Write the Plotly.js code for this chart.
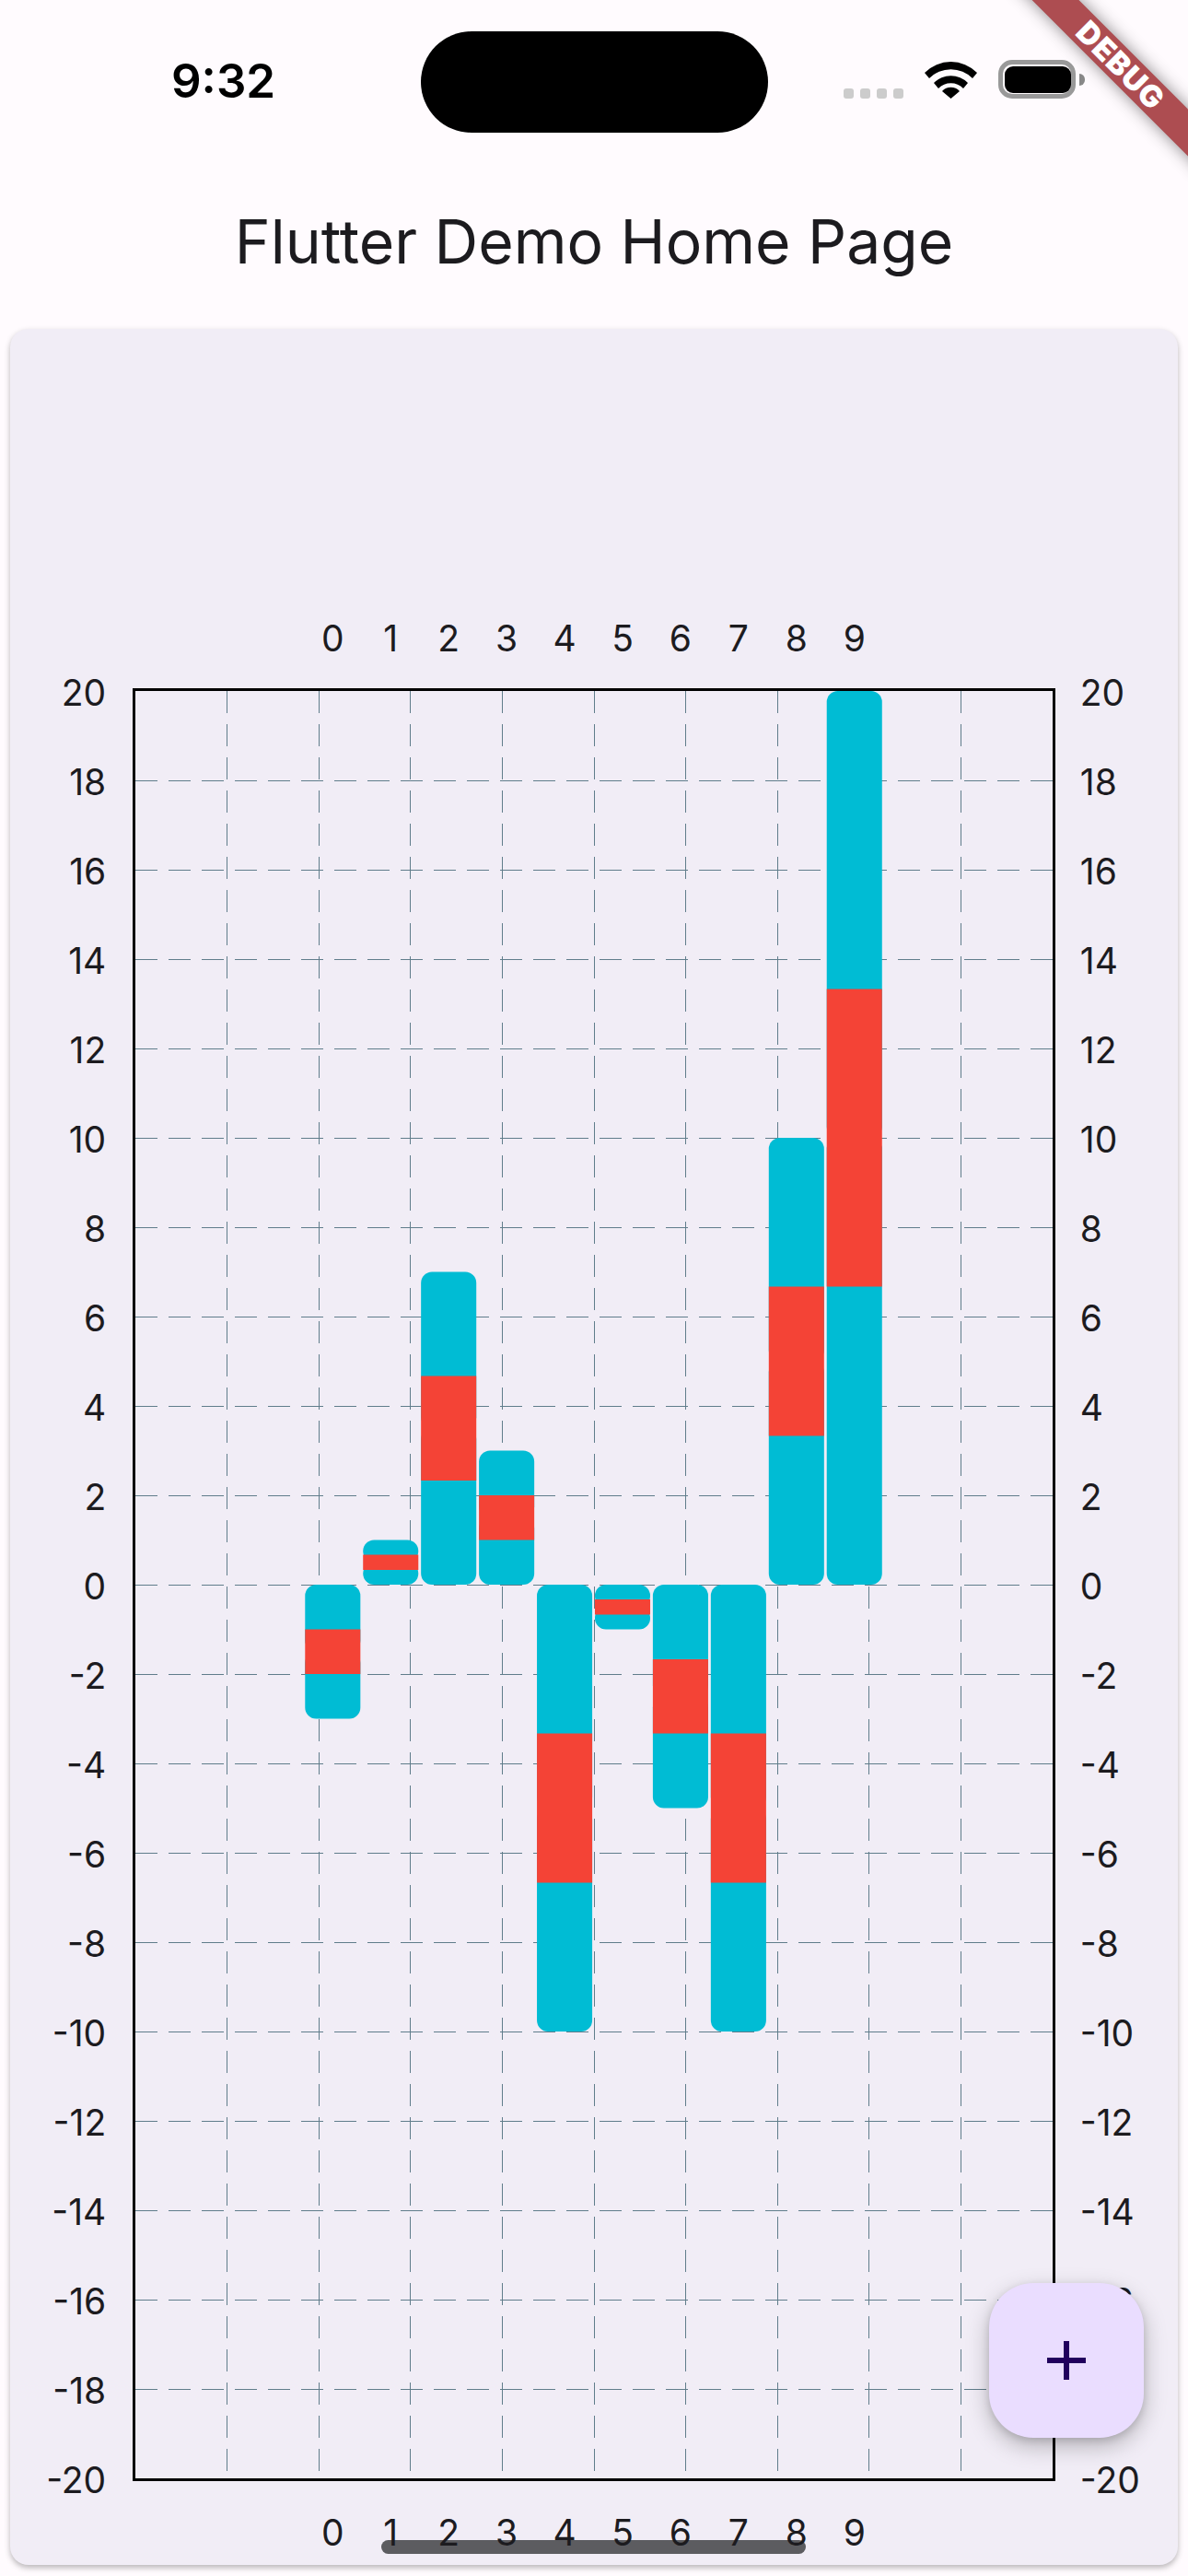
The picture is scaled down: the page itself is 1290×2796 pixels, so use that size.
<!DOCTYPE html>
<html><head><meta charset="utf-8">
<script src="https://cdn.plot.ly/plotly-3.0.1.min.js"></script>
<style>
html,body{margin:0;padding:0;background:#fffbfe;}
#screen{position:relative;width:1290px;height:2796px;overflow:hidden;background:#fffbfe;font-family:Inter,"Noto Sans",sans-serif;}
#screen>*{position:absolute;}
#card{left:11px;top:357px;width:1268px;height:2427px;background:#f1edf6;border-radius:20px;box-shadow:0 3px 6px rgba(0,0,0,.28);}
#indicator{left:414px;top:2757px;width:461px;height:15px;border-radius:8px;background:#5c5c60;}
#chart{left:0;top:0;width:1290px;height:2796px;}
#island{left:457px;top:34px;width:377px;height:110px;border-radius:55px;background:#000;}
#time{left:186px;top:57px;font-size:51px;font-weight:600;color:#000;line-height:62px;}
.dot{top:96px;width:11px;height:11px;border-radius:3px;background:#ccc;}
#batt{left:1084px;top:65px;width:74px;height:32px;border:5px solid #999;border-radius:15px;}
#battin{left:1091px;top:72px;width:72px;height:29px;border-radius:9px;background:#000;}
#nub{left:1172px;top:80px;width:6px;height:13px;border-radius:0 6px 6px 0;background:#888;}
#ribbon{left:1007px;top:53px;width:420px;height:36px;line-height:36px;text-align:center;transform:rotate(45deg);transform-origin:50% 50%;background:#ad4d51;color:#fff;font-weight:900;font-size:33px;letter-spacing:1px;box-shadow:0 0 18px rgba(0,0,0,.45);}
#fab{left:1074px;top:2478px;width:168px;height:168px;border-radius:48px;background:#eaddff;box-shadow:0 9px 24px rgba(0,0,0,.25),0 3px 8px rgba(0,0,0,.12);}
#fabh{left:1137px;top:2559px;width:42px;height:6px;background:#21005d;}
#fabv{left:1155px;top:2541px;width:6px;height:42px;background:#21005d;}
</style></head>
<body>
<div id="screen">
  <div id="card"></div>
  <div id="indicator"></div>
  <div id="chart"></div>
  <div id="island"></div>
  <div id="time">9:32</div>
  <div class="dot" style="left:916px"></div>
  <div class="dot" style="left:934px"></div>
  <div class="dot" style="left:952px"></div>
  <div class="dot" style="left:970px"></div>
  <svg style="left:1004px;top:65px" width="57" height="42" viewBox="0 0 57 42">
    <path d="M0 14 A40 40 0 0 1 57 14 L52 20 A33 33 0 0 0 5 20 Z M10 25 A26 26 0 0 1 47 25 L42 31 A19 19 0 0 0 15 31 Z M19 34 A13 13 0 0 1 38 34 L28.5 42 Z" fill="#000"/>
  </svg>
  <div id="batt"></div>
  <div id="battin"></div>
  <div id="nub"></div>
  <div id="ribbon">DEBUG</div>
  <div id="fab"></div>
  <div id="fabh"></div>
  <div id="fabv"></div>
</div>
<script>
var categories = [0, 1, 2, 3, 4, 5, 6, 7, 8, 9];
// Each stack: a cyan column running from base 0 to its total, with a red band in its middle third.
var stackMid   = [-1.5, 0.5, 3.5, 1.5, -5, -0.5, -2.5, -5, 5, 10];
var towardEnd  = [-1.5, 0.5, 3.5, 1.5, -5, -0.5, -2.5, -5, 5, 10];
var towardZero = [1.5, -0.5, -3.5, -1.5, 5, 0.5, 2.5, 5, -5, -10];
var redBase    = [-1, 0.33, 2.33, 1, -3.33, -0.33, -1.67, -3.33, 3.33, 6.67];
var redSize    = [-1, 0.34, 2.34, 1, -3.34, -0.34, -1.66, -3.34, 3.34, 6.66];
var yTicks = [20,18,16,14,12,10,8,6,4,2,0,-2,-4,-6,-8,-10,-12,-14,-16,-18,-20];
var yTickLabels = ["20","18","16","14","12","10","8","6","4","2","0","-2","-4","-6","-8","-10","-12","-14","-16","-18","-20"];
var xTickLabels = ["0","1","2","3","4","5","6","7","8","9"];
var gridDivisions = [1,2,3,4,5,6,7,8,9];

var cyan = "#00bcd4", red = "#f44336", ink = "#1c1b1f", gridColor = "#607d8b";
var tickFont = {family: "Inter, sans-serif", size: 39, color: ink};
var xRange = [-3.405, 12.42], yRange = [-20, 20];
var hidden = {mode: "lines", line: {width: 0}, opacity: 0, hoverinfo: "skip", showlegend: false};

var data = [
  {type: "bar", x: categories, y: towardEnd, base: stackMid, marker: {color: cyan, cornerradius: 12}, hoverinfo: "skip", showlegend: false},
  {type: "bar", x: categories, y: towardZero, base: stackMid, marker: {color: cyan, cornerradius: 12}, hoverinfo: "skip", showlegend: false},
  {type: "bar", x: categories, y: redSize, base: redBase, marker: {color: red, cornerradius: 0}, hoverinfo: "skip", showlegend: false},
  Object.assign({type: "scatter", x: gridDivisions, y: gridDivisions, xaxis: "x2", yaxis: "y"}, hidden),
  Object.assign({type: "scatter", x: categories, y: categories, xaxis: "x3", yaxis: "y"}, hidden),
  Object.assign({type: "scatter", x: categories, y: categories, xaxis: "x", yaxis: "y2"}, hidden)
];

var layout = {
  width: 1290, height: 2796,
  autosize: false,
  paper_bgcolor: "rgba(0,0,0,0)",
  plot_bgcolor: "rgba(0,0,0,0)",
  margin: {l: 147.3, r: 147, t: 750.3, b: 105.7, pad: 0},
  showlegend: false,
  barmode: "overlay",
  bargap: 0.046,
  title: {text: "Flutter Demo Home Page", x: 0.5, xanchor: "center", xref: "paper", y: 0.906, yref: "container", yanchor: "middle",
          font: {family: "Inter, sans-serif", size: 66, color: ink}},
  xaxis: {domain: [0, 1], range: xRange, tickmode: "array", tickvals: categories, ticktext: xTickLabels, side: "bottom",
          showgrid: false, zeroline: false, showline: true, mirror: true, linecolor: "#000", linewidth: 3,
          ticks: "outside", ticklen: 23, tickcolor: "rgba(0,0,0,0)", tickfont: tickFont, automargin: false, fixedrange: true},
  xaxis2: {overlaying: "x", range: [0, 10], tickmode: "array", tickvals: gridDivisions, showticklabels: false, ticks: "",
          showgrid: true, gridcolor: gridColor, gridwidth: 1, griddash: "24px,12px", zeroline: false, showline: false, side: "bottom", fixedrange: true},
  xaxis3: {overlaying: "x", range: xRange, tickmode: "array", tickvals: categories, ticktext: xTickLabels, side: "top",
          showgrid: false, zeroline: false, showline: false,
          ticks: "outside", ticklen: 26, tickcolor: "rgba(0,0,0,0)", tickfont: tickFont, automargin: false, fixedrange: true},
  yaxis: {domain: [0, 1], range: yRange, tickmode: "array", tickvals: yTicks, ticktext: yTickLabels, side: "left", ticklabelshift: 2,
          showgrid: true, gridcolor: gridColor, gridwidth: 1, griddash: "24px,12px", zeroline: false,
          showline: true, mirror: true, linecolor: "#000", linewidth: 3,
          ticks: "outside", ticklen: 21, tickcolor: "rgba(0,0,0,0)", tickfont: tickFont, automargin: false, fixedrange: true},
  yaxis2: {overlaying: "y", range: yRange, tickmode: "array", tickvals: yTicks, ticktext: yTickLabels, side: "right", ticklabelshift: 2,
          showgrid: false, zeroline: false, showline: false,
          ticks: "outside", ticklen: 21, tickcolor: "rgba(0,0,0,0)", tickfont: tickFont, automargin: false, fixedrange: true}
};
Plotly.newPlot("chart", data, layout, {staticPlot: true, displayModeBar: false, responsive: false});
</script>
</body></html>
